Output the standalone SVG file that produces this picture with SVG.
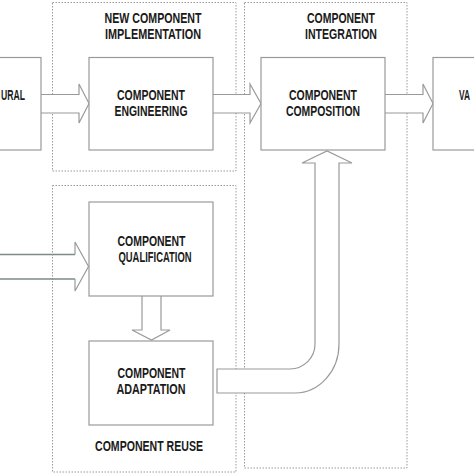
<svg xmlns="http://www.w3.org/2000/svg" width="474" height="474" viewBox="0 0 474 474">
<style>
.bg{fill:#ffffff}
.grp{fill:none;stroke:#9a9a9a;stroke-width:1;stroke-dasharray:1.5,1.5}
.box{fill:#ffffff;stroke:#9a9a9a;stroke-width:1.2}
.arr{fill:#ffffff;stroke:#9a9a9a;stroke-width:1.2;stroke-linejoin:miter}
.arrd{fill:none;stroke:#7d8a86;stroke-width:1.3}
text{font-family:"Liberation Sans Narrow","Liberation Sans",Arial,sans-serif;font-weight:bold;font-size:14.5px;fill:#1a1a1a;text-anchor:middle}
</style>
<rect class="bg" x="0" y="0" width="474" height="474"/>
<g id="group-new-impl">
<rect class="grp" x="52.5" y="2.5" width="183.5" height="168.5"/>
<text x="153" y="23" textLength="97" lengthAdjust="spacingAndGlyphs">NEW COMPONENT</text>
<text x="153" y="39" textLength="96" lengthAdjust="spacingAndGlyphs">IMPLEMENTATION</text>
</g>
<g id="group-reuse">
<rect class="grp" x="52.5" y="185.5" width="183.5" height="286.5"/>
<text x="149" y="451" textLength="108" lengthAdjust="spacingAndGlyphs">COMPONENT REUSE</text>
</g>
<g id="group-integration">
<rect class="grp" x="244.5" y="2.5" width="162.5" height="465.5"/>
<text x="341" y="23" textLength="68" lengthAdjust="spacingAndGlyphs">COMPONENT</text>
<text x="341" y="39" textLength="72" lengthAdjust="spacingAndGlyphs">INTEGRATION</text>
</g>
<g id="connectors">
<path class="arr" d="M41,94.5 H79 V84 L89,103.5 L79,123 V113 H41"/>
<path class="arr" d="M213,94.5 H250 V84 L261,103.5 L250,123 V113 H213"/>
<path class="arr" d="M385,94.5 H423 V84 L433,103.5 L423,123 V113 H385"/>
<path class="arrd" d="M0,254.5 H75 M0,279 H75"/>
<path class="arr" d="M75,254.5 V242 L88.5,266.5 L75,291 V279"/>
<path class="arr" d="M142,296 V330 H132 L151.5,340 L170,330 H161 V296"/>
<path class="arr" d="M217,369 H290 A25,25 0 0 0 315,344 V163 H302 L327,151 L352,163 H339 V344 A44,49 0 0 1 295,393 H217 Z"/>
</g>
<g id="node-architectural">
<rect class="box" x="-20" y="57.5" width="61" height="92.5"/>
<text x="1" y="100" textLength="24" lengthAdjust="spacingAndGlyphs" style="text-anchor:start">URAL</text>
</g>
<g id="node-engineering">
<rect class="box" x="89" y="57.5" width="124" height="92.5"/>
<text x="151" y="100" textLength="68" lengthAdjust="spacingAndGlyphs">COMPONENT</text>
<text x="151" y="116" textLength="73" lengthAdjust="spacingAndGlyphs">ENGINEERING</text>
</g>
<g id="node-composition">
<rect class="box" x="261" y="57.5" width="124" height="92.5"/>
<text x="323" y="100" textLength="68" lengthAdjust="spacingAndGlyphs">COMPONENT</text>
<text x="323" y="116" textLength="74" lengthAdjust="spacingAndGlyphs">COMPOSITION</text>
</g>
<g id="node-validation">
<rect class="box" x="433" y="57.5" width="60" height="92.5"/>
<text x="459" y="100" textLength="11" lengthAdjust="spacingAndGlyphs" style="text-anchor:start">VA</text>
</g>
<g id="node-qualification">
<rect class="box" x="89" y="202" width="124" height="94"/>
<text x="151.5" y="246" textLength="68" lengthAdjust="spacingAndGlyphs">COMPONENT</text>
<text x="155" y="262" textLength="73" lengthAdjust="spacingAndGlyphs">QUALIFICATION</text>
</g>
<g id="node-adaptation">
<rect class="box" x="89" y="341" width="124" height="84"/>
<text x="151.5" y="378" textLength="68" lengthAdjust="spacingAndGlyphs">COMPONENT</text>
<text x="151" y="394" textLength="69" lengthAdjust="spacingAndGlyphs">ADAPTATION</text>
</g>
</svg>
